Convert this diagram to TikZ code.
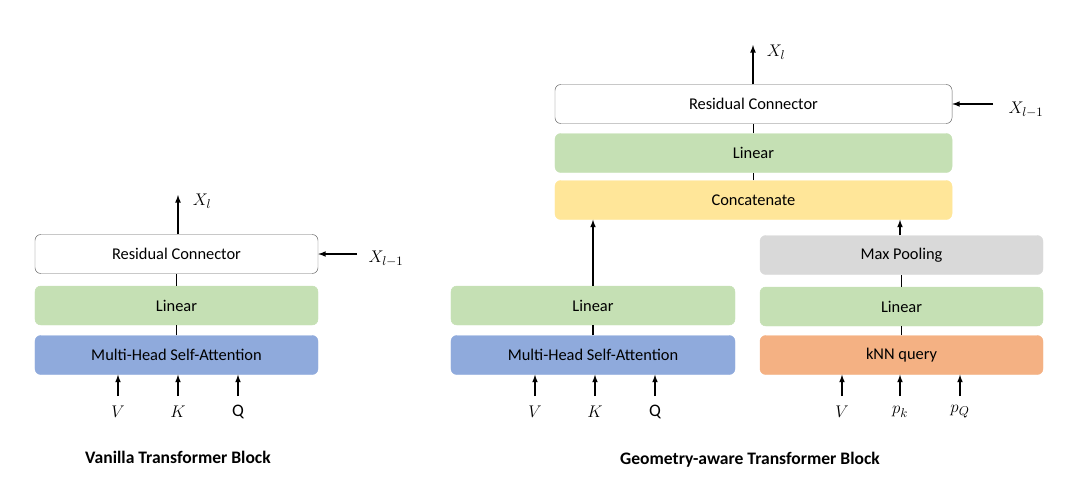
\documentclass[tikz,border=0pt]{standalone}
\usepackage{fontspec}
\setmainfont{Carlito}
\usepackage{amsmath}
\definecolor{lingreen}{HTML}{C5E0B4}
\definecolor{attblue}{HTML}{8FAADC}
\definecolor{catyellow}{HTML}{FFE699}
\definecolor{poolgray}{HTML}{D9D9D9}
\definecolor{knnorange}{HTML}{F4B183}
\tikzset{
  blk/.style={draw=#1, fill=#1, rounded corners=5pt, minimum height=1.17cm,
    font=\fontsize{14}{16}\selectfont, inner sep=0pt},
  res/.style={draw=black!60, fill=white, rounded corners=5pt, minimum height=1.17cm,
    font=\fontsize{14}{16}\selectfont, inner sep=0pt},
  lbl/.style={font=\fontsize{15}{17}\selectfont},
  ttl/.style={font=\fontsize{15}{17}\selectfont\bfseries},
  arr/.style={-latex, line width=1.2pt},
  con/.style={line width=1.2pt}
}
\begin{document}
\begin{tikzpicture}[x=0.03cm,y=-0.03cm]
  \useasboundingbox (0,0) rectangle (1080,496);
  % vanilla block
  \node[res, minimum width=8.49cm] (vres) at (176.5,254) {Residual Connector};
  \node[blk=lingreen, minimum width=8.49cm] (vlin) at (176.5,305.5) {Linear};
  \node[blk=attblue, minimum width=8.49cm] (vatt) at (176.5,355) {Multi-Head Self-Attention};
  \draw[con] (vatt) -- (vlin);
  \draw[con] (vlin) -- (vres);
  \coordinate (vout) at (178,195);
  \draw[arr] (vres.north -| vout) -- (vout);
  \node[lbl] (vxl) at (202,201) {$X_l$};
  \coordinate (vin) at (357,254);
  \draw[arr] (vin) -- (vres.east);
  \node[lbl] (vxp) at (386,259) {$X_{l-1}$};
  \foreach \x/\t [count=\i] in {118/V,178/K,238/\mathrm{Q}}{
    \coordinate (vi\i) at (\x,396);
    \draw[arr] (vi\i) -- (vatt.south -| vi\i);
    \node[lbl] (vt\i) at (\x,412) {$\t$};
  }
  \node[ttl] (vttl) at (178,457) {Vanilla Transformer Block};
  % geometry-aware block
  \node[res, minimum width=11.91cm] (gres) at (753.5,104) {Residual Connector};
  \node[blk=lingreen, minimum width=11.91cm] (glin) at (753.5,153) {Linear};
  \node[blk=catyellow, minimum width=11.91cm] (gcat) at (753.5,200) {Concatenate};
  \draw[con] (gcat) -- (glin);
  \draw[con] (glin) -- (gres);
  \coordinate (gout) at (753,45);
  \draw[arr] (gres.north -| gout) -- (gout);
  \node[lbl] (gxl) at (776,52) {$X_l$};
  \coordinate (gin) at (993,104);
  \draw[arr] (gin) -- (gres.east);
  \node[lbl] (gxp) at (1026,110) {$X_{l-1}$};
  % left branch
  \node[blk=lingreen, minimum width=8.52cm] (alin) at (593,305.5) {Linear};
  \node[blk=attblue, minimum width=8.52cm] (aatt) at (593,355) {Multi-Head Self-Attention};
  \draw[con] (aatt) -- (alin);
  \draw[arr] (alin) -- (alin |- gcat.south);
  \foreach \x/\t [count=\i] in {535/V,595/K,655/\mathrm{Q}}{
    \coordinate (ai\i) at (\x,396);
    \draw[arr] (ai\i) -- (aatt.south -| ai\i);
    \node[lbl] (at\i) at (\x,412) {$\t$};
  }
  % right branch
  \node[blk=poolgray, minimum width=8.49cm] (bpool) at (901.5,255) {Max Pooling};
  \node[blk=lingreen, minimum width=8.49cm] (blin) at (901.5,306.5) {Linear};
  \node[blk=knnorange, minimum width=8.49cm] (bknn) at (901.5,355) {kNN query};
  \draw[con] (bknn) -- (blin);
  \draw[con] (blin) -- (bpool);
  \draw[arr] (bpool.north -| 900,0) -- (gcat.south -| 900,0);
  \foreach \x/\t [count=\i] in {842/V,900/p_k,960/p_Q}{
    \coordinate (bi\i) at (\x,396);
    \draw[arr] (bi\i) -- (bknn.south -| bi\i);
    \node[lbl] (bt\i) at (\x,412) {$\t$};
  }
  \node[ttl] (gttl) at (750,460) {Geometry-aware Transformer Block};
\end{tikzpicture}
\end{document}
